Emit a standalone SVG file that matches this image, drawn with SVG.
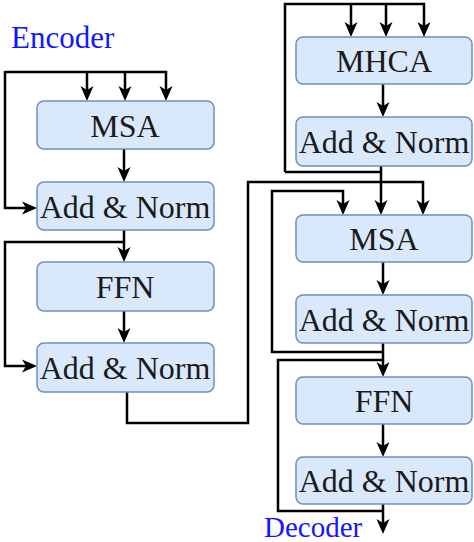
<svg xmlns="http://www.w3.org/2000/svg" xmlns:xlink="http://www.w3.org/1999/xlink" width="474" height="542" viewBox="0 0 474 542">
<style>
.box{fill:#dae8fc;stroke:#6c8ebf;stroke-width:1.5}
.lbl{font-family:"Liberation Serif","Times New Roman",serif;font-size:32px;fill:#1a1a1a;text-anchor:middle}
.ttl{font-family:"Liberation Serif","Times New Roman",serif;fill:#1515ff}
.c{fill:none;stroke:#000;stroke-width:2.5}
</style>
<defs>
<path id="ad" d="M-6.5,-15 L0,0 L6.5,-15 L0,-11 Z" fill="#000"/>
<path id="ar" d="M-15,-6.5 L0,0 L-15,6.5 L-11,0 Z" fill="#000"/>
</defs>
<rect width="474" height="542" fill="#fff"/>
<text class="ttl" x="11" y="48" font-size="31">Encoder</text>
<text class="ttl" x="264" y="537" font-size="29">Decoder</text>
<g id="connectors">
<path class="c" d="M5,72 H166 V92"/>
<path class="c" d="M87,72 V92 M125,72 V92"/>
<path class="c" d="M5,71 V208 H28"/>
<path class="c" d="M124,149 V173"/>
<path class="c" d="M124,230 V253"/>
<path class="c" d="M124,242 H5 V366 H28"/>
<path class="c" d="M124,311 V334"/>
<path class="c" d="M127,392 V423 H248 V182 H423 V206"/>
<path class="c" d="M383,352 H272 V191 H343 V206"/>
<path class="c" d="M285,172 V4 H424 V28"/>
<path class="c" d="M351,4 V28 M386,4 V28"/>
<path class="c" d="M383,83 V108"/>
<path class="c" d="M381,166 V206"/>
<path class="c" d="M285,172 H381"/>
<path class="c" d="M383,262 V286"/>
<path class="c" d="M383,343 V368"/>
<path class="c" d="M383,360 H278 V511 H383"/>
<path class="c" d="M383,424 V448"/>
<path class="c" d="M383,504 V525"/>
<use xlink:href="#ad" x="87" y="101"/>
<use xlink:href="#ad" x="125" y="101"/>
<use xlink:href="#ad" x="166" y="101"/>
<use xlink:href="#ar" x="37" y="208"/>
<use xlink:href="#ad" x="124" y="182"/>
<use xlink:href="#ad" x="124" y="262"/>
<use xlink:href="#ar" x="37" y="366"/>
<use xlink:href="#ad" x="124" y="343"/>
<use xlink:href="#ad" x="351" y="37"/>
<use xlink:href="#ad" x="386" y="37"/>
<use xlink:href="#ad" x="424" y="37"/>
<use xlink:href="#ad" x="383" y="117"/>
<use xlink:href="#ad" x="343" y="215"/>
<use xlink:href="#ad" x="381" y="215"/>
<use xlink:href="#ad" x="423" y="215"/>
<use xlink:href="#ad" x="383" y="295"/>
<use xlink:href="#ad" x="383" y="377"/>
<use xlink:href="#ad" x="383" y="457"/>
<use xlink:href="#ad" x="383" y="534"/>
</g>
<g id="enc-msa"><rect class="box" x="37" y="101" width="177" height="48" rx="7"/><text class="lbl" x="125" y="137">MSA</text></g>
<g id="enc-add1"><rect class="box" x="37" y="182" width="177" height="48" rx="7"/><text class="lbl" x="125" y="218">Add &amp; Norm</text></g>
<g id="enc-ffn"><rect class="box" x="37" y="262" width="177" height="49" rx="7"/><text class="lbl" x="125" y="298">FFN</text></g>
<g id="enc-add2"><rect class="box" x="37" y="343" width="177" height="49" rx="7"/><text class="lbl" x="125" y="379">Add &amp; Norm</text></g>
<g id="dec-mhca"><rect class="box" x="296" y="37" width="176" height="47" rx="7"/><text class="lbl" x="384" y="72">MHCA</text></g>
<g id="dec-add1"><rect class="box" x="296" y="117" width="176" height="49" rx="7"/><text class="lbl" x="384" y="153">Add &amp; Norm</text></g>
<g id="dec-msa"><rect class="box" x="296" y="215" width="176" height="47" rx="7"/><text class="lbl" x="384" y="250">MSA</text></g>
<g id="dec-add2"><rect class="box" x="296" y="295" width="176" height="48" rx="7"/><text class="lbl" x="384" y="331">Add &amp; Norm</text></g>
<g id="dec-ffn"><rect class="box" x="296" y="377" width="176" height="47" rx="7"/><text class="lbl" x="384" y="412">FFN</text></g>
<g id="dec-add3"><rect class="box" x="296" y="457" width="176" height="47" rx="7"/><text class="lbl" x="384" y="492">Add &amp; Norm</text></g>
</svg>
